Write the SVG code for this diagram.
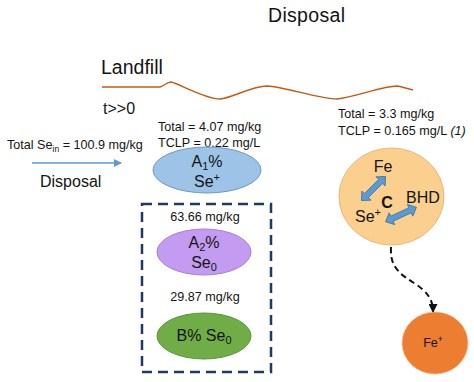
<svg xmlns="http://www.w3.org/2000/svg" width="474" height="382" viewBox="0 0 474 382">
<style>
text{font-family:"Liberation Sans",Arial,sans-serif;fill:#141414;}
.t12{font-size:12.6px;}
.t15{font-size:16px;}
.t19{font-size:19.5px;}
.mid{text-anchor:middle;}
</style>
<defs>
<marker id="ah" markerWidth="8" markerHeight="8" refX="7" refY="4" orient="auto" markerUnits="userSpaceOnUse">
<path d="M0,0 L8,4 L0,8 z" fill="#5B9BD5"/>
</marker>
<marker id="ahk" markerWidth="9" markerHeight="9" refX="8" refY="4.5" orient="auto" markerUnits="userSpaceOnUse">
<path d="M0,0 L9,4.5 L0,9 z" fill="#111"/>
</marker>
<polygon id="dbl" points="-17,0 -10,-6.5 -10,-2.8 10,-2.8 10,-6.5 17,0 10,6.5 10,2.8 -10,2.8 -10,6.5" fill="#5B9BD5" stroke="#41719C" stroke-width="0.8"/>
</defs>
<rect width="474" height="382" fill="#fff"/>

<g id="titles">
<text class="t19" x="268" y="22" textLength="77">Disposal</text>
<text class="t19" x="101" y="74">Landfill</text>
<text class="t15" x="103" y="114">t&gt;&gt;0</text>
<path d="M102,87 L160,87 C164,86 167,82 171,82 C180,84 205,99 220,99 C232,98 252,86 267,86 C285,87 320,99 337,99 C355,97 383,86 397,86 C403,87 408,89 413,90" fill="none" stroke="#C55A11" stroke-width="1.4"/>
</g>

<g id="input">
<text class="t12" x="7" y="149">Total Se<tspan font-size="8.5" dy="3">in</tspan><tspan dy="-3"> = 100.9 mg/kg</tspan></text>
<text class="t15" x="40" y="187">Disposal</text>
</g>

<g id="connectors">
<line x1="32" y1="163" x2="121" y2="163" stroke="#5B9BD5" stroke-width="1.3" marker-end="url(#ah)"/>
<path d="M391,247 C390,264 396,272 414,283 C428,292 433,300 433,312" fill="none" stroke="#111" stroke-width="2" stroke-dasharray="6,4" marker-end="url(#ahk)"/>
</g>

<g id="A1">
<text class="t12" x="158" y="131">Total = 4.07 mg/kg</text>
<text class="t12" x="158" y="147">TCLP = 0.22 mg/L</text>
<ellipse cx="207" cy="170" rx="54" ry="23" fill="#9DC3E6" stroke="#6F96C4" stroke-width="1"/>
<text class="t15 mid" x="207" y="167">A<tspan font-size="11" dy="3">1</tspan><tspan dy="-3">%</tspan></text>
<text class="t15 mid" x="207" y="187">Se<tspan font-size="11" dy="-6">+</tspan></text>
</g>

<g id="group-box">
<rect x="142" y="204" width="129" height="168" fill="none" stroke="#1F3864" stroke-width="2.5" stroke-dasharray="10,6"/>
</g>

<g id="A2">
<text class="t12 mid" x="205" y="221">63.66 mg/kg</text>
<ellipse cx="204" cy="252" rx="47" ry="23" fill="#C39BF0" stroke="#A77FD6" stroke-width="1"/>
<text class="t15 mid" x="204" y="248">A<tspan font-size="11" dy="3">2</tspan><tspan dy="-3">%</tspan></text>
<text class="t15 mid" x="204" y="268">Se<tspan font-size="11" dy="3">0</tspan></text>
</g>

<g id="B">
<text class="t12 mid" x="205" y="301">29.87 mg/kg</text>
<ellipse cx="204" cy="336" rx="47" ry="23" fill="#70AD47" stroke="#5E9538" stroke-width="1"/>
<text class="t15 mid" x="204" y="341">B% Se<tspan font-size="11" dy="3">0</tspan></text>
</g>

<g id="C">
<text class="t12" x="338" y="118">Total = 3.3 mg/kg</text>
<text class="t12" x="338" y="135">TCLP = 0.165 mg/L <tspan font-style="italic">(1)</tspan></text>
<ellipse cx="391.5" cy="196.5" rx="52.5" ry="48.5" fill="#FBD08F" stroke="#E8B877" stroke-width="1"/>
<use href="#dbl" transform="translate(373.5,188.5) rotate(-45)"/>
<use href="#dbl" transform="translate(401,214.5) rotate(-25)"/>
<text class="t15 mid" x="383" y="172">Fe</text>
<text class="t15 mid" x="387" y="208" font-weight="bold">C</text>
<text class="t15" x="406" y="203">BHD</text>
<text class="t15" x="355" y="222">Se<tspan font-size="11" dy="-6">+</tspan></text>
</g>

<g id="FeP">
<ellipse cx="435" cy="343" rx="33" ry="31" fill="#ED7D31" stroke="#F6C7A6" stroke-width="1" stroke-dasharray="3,2"/>
<text class="t12 mid" x="433" y="347">Fe<tspan font-size="8.5" dy="-5">+</tspan></text>
</g>
</svg>
